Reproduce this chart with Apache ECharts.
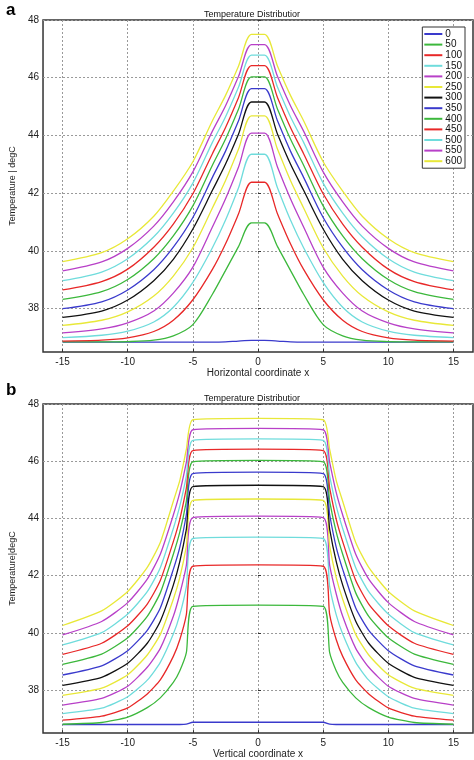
<!DOCTYPE html>
<html><head><meta charset="utf-8">
<script src="https://cdn.jsdelivr.net/npm/echarts@6/dist/echarts.min.js"></script>
<style>html,body{margin:0;padding:0;background:#fff}#c{width:474px;height:760px}</style>
</head><body><div id="c"></div>
<script>
const times = ['0','50','100','150','200','250','300','350','400','450','500','550','600'];
const colors = ['#3a3acc','#3cb83c','#e82828','#6fdcdc','#b840c8','#e8e838','#111111','#3a3acc','#3cb83c','#e82828','#6fdcdc','#b840c8','#e8e838'];
// Panel a: half profile at x = 0.5 .. 15 (mirrored about 0)
const xA = [0.5,1.5,2.5,3.5,5,6.5,8,10,12,15];
const tA = [
 [36.9,36.88,36.85,36.84,36.84,36.84,36.84,36.84,36.84,36.84],
 [40.97,40.15,39.32,38.50,37.45,37.06,36.91,36.86,36.85,36.85],
 [42.38,41.28,40.24,39.36,38.31,37.60,37.21,36.99,36.91,36.88],
 [43.35,42.18,41.06,40.11,38.91,38.05,37.54,37.22,37.08,37.0],
 [44.08,42.90,41.80,40.83,39.44,38.54,37.92,37.51,37.30,37.16],
 [44.68,43.52,42.43,41.49,40.11,39.13,38.44,37.89,37.60,37.42],
 [45.16,44.04,43.00,42.10,40.76,39.71,38.97,38.30,37.92,37.70],
 [45.62,44.50,43.45,42.55,41.16,40.13,39.35,38.65,38.24,38.0],
 [46.03,44.91,43.87,42.97,41.56,40.52,39.73,39.01,38.59,38.32],
 [46.42,45.31,44.27,43.37,41.98,40.93,40.13,39.37,38.94,38.65],
 [46.78,45.67,44.64,43.76,42.35,41.31,40.49,39.73,39.27,38.97],
 [47.15,46.04,45.02,44.15,42.74,41.70,40.86,40.09,39.62,39.31],
 [47.5,46.40,45.38,44.51,43.09,42.07,41.20,40.42,39.94,39.63]
];
// Panel b: plateau centre value + half profile at x = 5 .. 15
const xB = [5,5.5,6,6.5,7.5,8.5,10,12,15];
const centreB = [36.88,40.97,42.38,43.35,44.08,44.68,45.16,45.62,46.03,46.42,46.78,47.15,47.5];
const tB = [
 [36.88,36.81,36.80,36.80,36.80,36.80,36.80,36.80,36.80],
 [40.93,39.31,38.68,38.27,37.73,37.39,37.06,36.87,36.81],
 [42.33,40.64,39.77,39.18,38.36,37.87,37.38,37.09,36.95],
 [43.30,41.62,40.64,39.96,38.97,38.35,37.77,37.37,37.18],
 [44.03,42.36,41.37,40.58,39.46,38.80,38.14,37.71,37.48],
 [44.63,43.03,41.94,41.18,39.95,39.23,38.54,38.07,37.82],
 [45.11,43.62,42.50,41.67,40.41,39.64,38.94,38.45,38.17],
 [45.57,44.13,43.00,42.22,40.87,40.09,39.38,38.85,38.53],
 [45.98,44.60,43.53,42.75,41.40,40.58,39.83,39.26,38.90],
 [46.37,45.06,43.98,43.19,41.83,41.01,40.25,39.64,39.25],
 [46.73,45.48,44.44,43.65,42.28,41.44,40.66,40.01,39.58],
 [47.10,45.96,44.91,44.12,42.75,41.88,41.06,40.40,39.93],
 [47.45,46.41,45.33,44.60,43.16,42.29,41.45,40.77,40.26]
];
const xTicks = [-15,-10,-5,0,5,10,15];
const yTicks = [38,40,42,44,46,48];

function mirror(xs, ys){
  const pts=[];
  for(let i=xs.length-1;i>=0;i--) pts.push([-xs[i],ys[i]]);
  for(let i=0;i<xs.length;i++) pts.push([xs[i],ys[i]]);
  return pts;
}
function mirrorB(xs, ys, c){
  const pts=[];
  for(let i=xs.length-1;i>=0;i--) pts.push([-xs[i],ys[i]]);
  pts.push([0,c]);
  for(let i=0;i<xs.length;i++) pts.push([xs[i],ys[i]]);
  return pts;
}
const font='Liberation Sans';
function xAxis(idx,name){return {gridIndex:idx,type:'value',min:-16.5,max:16.5,name:name,nameLocation:'middle',nameGap:12,
  nameTextStyle:{fontSize:10,color:'#222',fontFamily:font},
  axisLine:{show:false},axisTick:{show:true,customValues:xTicks,inside:true,length:3,lineStyle:{color:'#333'}},
  axisLabel:{customValues:xTicks,fontSize:10,color:'#222',margin:5,fontFamily:font},
  splitLine:{show:true,lineStyle:{type:[2,2],color:'#999'}}};}
function yAxis(idx,name){return {gridIndex:idx,type:'value',min:36.5,max:48,name:name,nameLocation:'middle',nameGap:14,
  nameTextStyle:{fontSize:9,color:'#222',fontFamily:font},
  axisLine:{show:false},axisTick:{show:true,customValues:yTicks,inside:true,length:3,lineStyle:{color:'#333'}},
  axisLabel:{customValues:yTicks,fontSize:10,color:'#222',margin:4,fontFamily:font},
  splitLine:{show:true,lineStyle:{type:[2,2],color:'#999'}}};}
const series=[];
times.forEach((t,i)=>{
  series.push({name:t,type:'line',xAxisIndex:0,yAxisIndex:0,data:mirror(xA,tA[i]),smooth:0.3,showSymbol:false,lineStyle:{width:1.3,color:colors[i]},itemStyle:{color:colors[i]}});
  series.push({name:t,type:'line',xAxisIndex:1,yAxisIndex:1,data:mirrorB(xB,tB[i],centreB[i]),smooth:0.2,showSymbol:false,lineStyle:{width:1.3,color:colors[i]},itemStyle:{color:colors[i]}});
});
const chart=echarts.init(document.getElementById('c'));
chart.setOption({
  animation:false,
  title:[
    {text:'Temperature Distributior',left:247,top:5,textAlign:'center',textStyle:{fontSize:9,fontWeight:'normal',color:'#111',fontFamily:font}},
    {text:'Temperature Distributior',left:247,top:389,textAlign:'center',textStyle:{fontSize:9,fontWeight:'normal',color:'#111',fontFamily:font}},
    {text:'a',left:1,top:-3,textStyle:{fontSize:17,fontWeight:'bold',color:'#000',fontFamily:font}},
    {text:'b',left:1,top:377,textStyle:{fontSize:17,fontWeight:'bold',color:'#000',fontFamily:font}}
  ],
  legend:{data:times,orient:'vertical',right:9,top:27,itemGap:0.6,itemWidth:18,itemHeight:2,icon:'rect',
    backgroundColor:'#fff',borderColor:'#333',borderWidth:1,padding:[2,3,2,2],
    textStyle:{fontSize:10,color:'#111',fontFamily:font,padding:[0,0,0,-2]}},
  grid:[
    {left:21,top:20,width:452,height:332,show:true,borderColor:'#333',borderWidth:1.5,backgroundColor:'#fff'},
    {left:21,top:404,width:452,height:333,show:true,borderColor:'#333',borderWidth:1.5,backgroundColor:'#fff'}
  ],
  xAxis:[xAxis(0,'Horizontal coordinate x'),xAxis(1,'Vertical coordinate x')],
  yAxis:[yAxis(0,'Temperature | degC'),yAxis(1,'Temperature|degC')],
  series:series
});
</script></body></html>
